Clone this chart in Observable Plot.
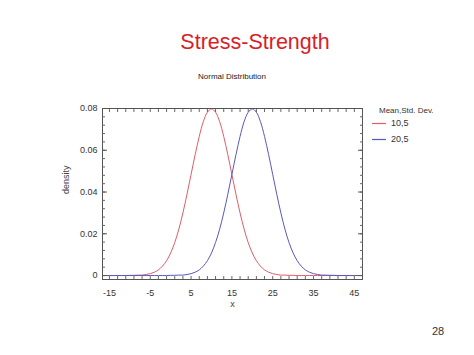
<!DOCTYPE html>
<html>
<head>
<meta charset="utf-8">
<script src="https://cdn.jsdelivr.net/npm/d3@7"></script>
<script src="https://cdn.jsdelivr.net/npm/@observablehq/plot@0.6"></script>
<style>
  html, body { margin: 0; padding: 0; background: #fff; }
  #wrap { position: relative; width: 474px; height: 355px; font-family: "Liberation Sans", Arial, sans-serif; overflow: hidden; }
  #wrap > svg { position: absolute; left: 0; top: 0; }
  .t { position: absolute; white-space: nowrap; color: #333; }
</style>
</head>
<body>
<div id="wrap"></div>
<script>
// Data
const titleText = "Stress-Strength";
const subtitleText = "Normal Distribution";
const legendTitle = "Mean,Std. Dev.";
const seriesNames = ["10,5", "20,5"];
const seriesColors = ["#dc5e68", "#5858bc"];
const pageNumber = "28";
const xLabels = [-15, -5, 5, 15, 25, 35, 45];
const yLabels = [0, 0.02, 0.04, 0.06, 0.08];

const xValues = [-17,-16,-15,-14,-13,-12,-11,-10,-9,-8,-7,-6,-5,-4,-3,-2,-1,0,1,2,3,4,5,6,7,8,9,10,
  11,12,13,14,15,16,17,18,19,20,21,22,23,24,25,26,27,28,29,30,31,32,33,34,35,36,37,38,39,40,
  41,42,43,44,45,46,47];
const density105 = [0,0,0,0,0,0,0,0.0001,0.0001,0.0002,0.0002,0.0005,0.0009,0.0016,0.0027,0.0045,0.0071,
  0.0108,0.0158,0.0222,0.0300,0.0389,0.0484,0.0579,0.0666,0.0737,0.0782,0.0798,
  0.0782,0.0737,0.0666,0.0579,0.0484,0.0389,0.0300,0.0222,0.0158,0.0108,
  0.0071,0.0045,0.0027,0.0016,0.0009,0.0005,0.0002,0.0002,0.0001,0.0001,
  0,0,0,0,0,0,0,0,0,0,0,0,0,0,0,0,0];
const density205 = [0,0,0,0,0,0,0,0,0,0,0,0,0,0,0,0,0,
  0.0001,0.0001,0.0002,0.0002,0.0005,0.0009,0.0016,0.0027,0.0045,0.0071,
  0.0108,0.0158,0.0222,0.0300,0.0389,0.0484,0.0579,0.0666,0.0737,0.0782,0.0798,
  0.0782,0.0737,0.0666,0.0579,0.0484,0.0389,0.0300,0.0222,0.0158,0.0108,
  0.0071,0.0045,0.0027,0.0016,0.0009,0.0005,0.0002,0.0002,0.0001,0.0001,
  0,0,0,0,0,0,0];

const rows = [];
[density105, density205].forEach((arr, s) => {
  arr.forEach((v, i) => rows.push({x: xValues[i], y: v, s: seriesNames[s]}));
});

const xMinor = d3.range(-15, 46, 2);
const yMinor = d3.range(0, 0.0801, 0.004);

const chart = Plot.plot({
  width: 474,
  height: 355,
  marginLeft: 102,
  marginRight: 112,
  marginTop: 108,
  marginBottom: 76,
  style: {fontFamily: "Liberation Sans, Arial, sans-serif", background: "transparent", color: "#333"},
  x: {domain: [-16.7, 47], label: null},
  y: {domain: [-0.0019, 0.08], label: null},
  color: {domain: seriesNames, range: seriesColors},
  marks: [
    Plot.lineY(rows, {x: "x", y: "y", z: "s", stroke: "s", strokeWidth: 1, curve: "catmull-rom", clip: true}),
    Plot.frame({stroke: "#555", strokeWidth: 1}),
    Plot.axisX(xMinor, {anchor: "bottom", tickSize: -3, text: null, label: null, stroke: "#666"}),
    Plot.axisX(xMinor, {anchor: "top", tickSize: -3, text: null, label: null, stroke: "#666"}),
    Plot.axisX(xLabels, {anchor: "bottom", tickSize: 0, tickPadding: 10, fontSize: 9, fill: "#333", label: null, tickFormat: d => String(d)}),
    Plot.axisY(yMinor, {anchor: "left", tickSize: -3, text: null, label: null, stroke: "#666"}),
    Plot.axisY(yLabels, {anchor: "left", tickSize: -5, text: null, label: null, stroke: "#555"}),
    Plot.axisY(yMinor, {anchor: "right", tickSize: -3, text: null, label: null, stroke: "#666"}),
    Plot.axisY(yLabels, {anchor: "right", tickSize: -5, text: null, label: null, stroke: "#555"}),
    Plot.axisY(yLabels, {anchor: "left", tickSize: 0, tickPadding: 5, fontSize: 9, fill: "#333", label: null, tickFormat: d => d === 0 ? "0" : d3.format(".2f")(d)}),
    Plot.text(["density"], {frameAnchor: "left", dx: -36, rotate: -90, fontSize: 9, fill: "#444"}),
    Plot.text(["x"], {frameAnchor: "bottom", dy: 27, fontSize: 9, fill: "#444"})
  ]
});

const wrap = document.getElementById("wrap");
wrap.appendChild(chart);

function addText(txt, left, top, css) {
  const d = document.createElement("div");
  d.className = "t";
  d.textContent = txt;
  d.style.left = left + "px";
  d.style.top = top + "px";
  Object.assign(d.style, css || {});
  wrap.appendChild(d);
  return d;
}
addText(titleText, 0, 30, {width: "474px", paddingLeft: "36px", boxSizing: "border-box", textAlign: "center", fontSize: "21.5px", color: "#d81e28"});
addText(subtitleText, 0, 72, {width: "464px", textAlign: "center", fontSize: "8px", color: "#222"});
addText(legendTitle, 379, 106, {fontSize: "8px", color: "#333"});

// legend swatches
const ns = "http://www.w3.org/2000/svg";
const lsvg = document.createElementNS(ns, "svg");
lsvg.setAttribute("width", "30");
lsvg.setAttribute("height", "40");
lsvg.style.position = "absolute";
lsvg.style.left = "368px";
lsvg.style.top = "115px";
seriesNames.forEach((n, i) => {
  const ln = document.createElementNS(ns, "line");
  ln.setAttribute("x1", 4);
  ln.setAttribute("x2", 18);
  ln.setAttribute("y1", 8.5 + i * 16);
  ln.setAttribute("y2", 8.5 + i * 16);
  ln.setAttribute("stroke", seriesColors[i]);
  ln.setAttribute("stroke-width", 1.2);
  lsvg.appendChild(ln);
  addText(n, 391, 118 + i * 16, {fontSize: "9px", color: "#333"});
});
wrap.appendChild(lsvg);
addText(pageNumber, 432, 325, {fontSize: "11px", color: "#333"});
</script>
</body>
</html>
